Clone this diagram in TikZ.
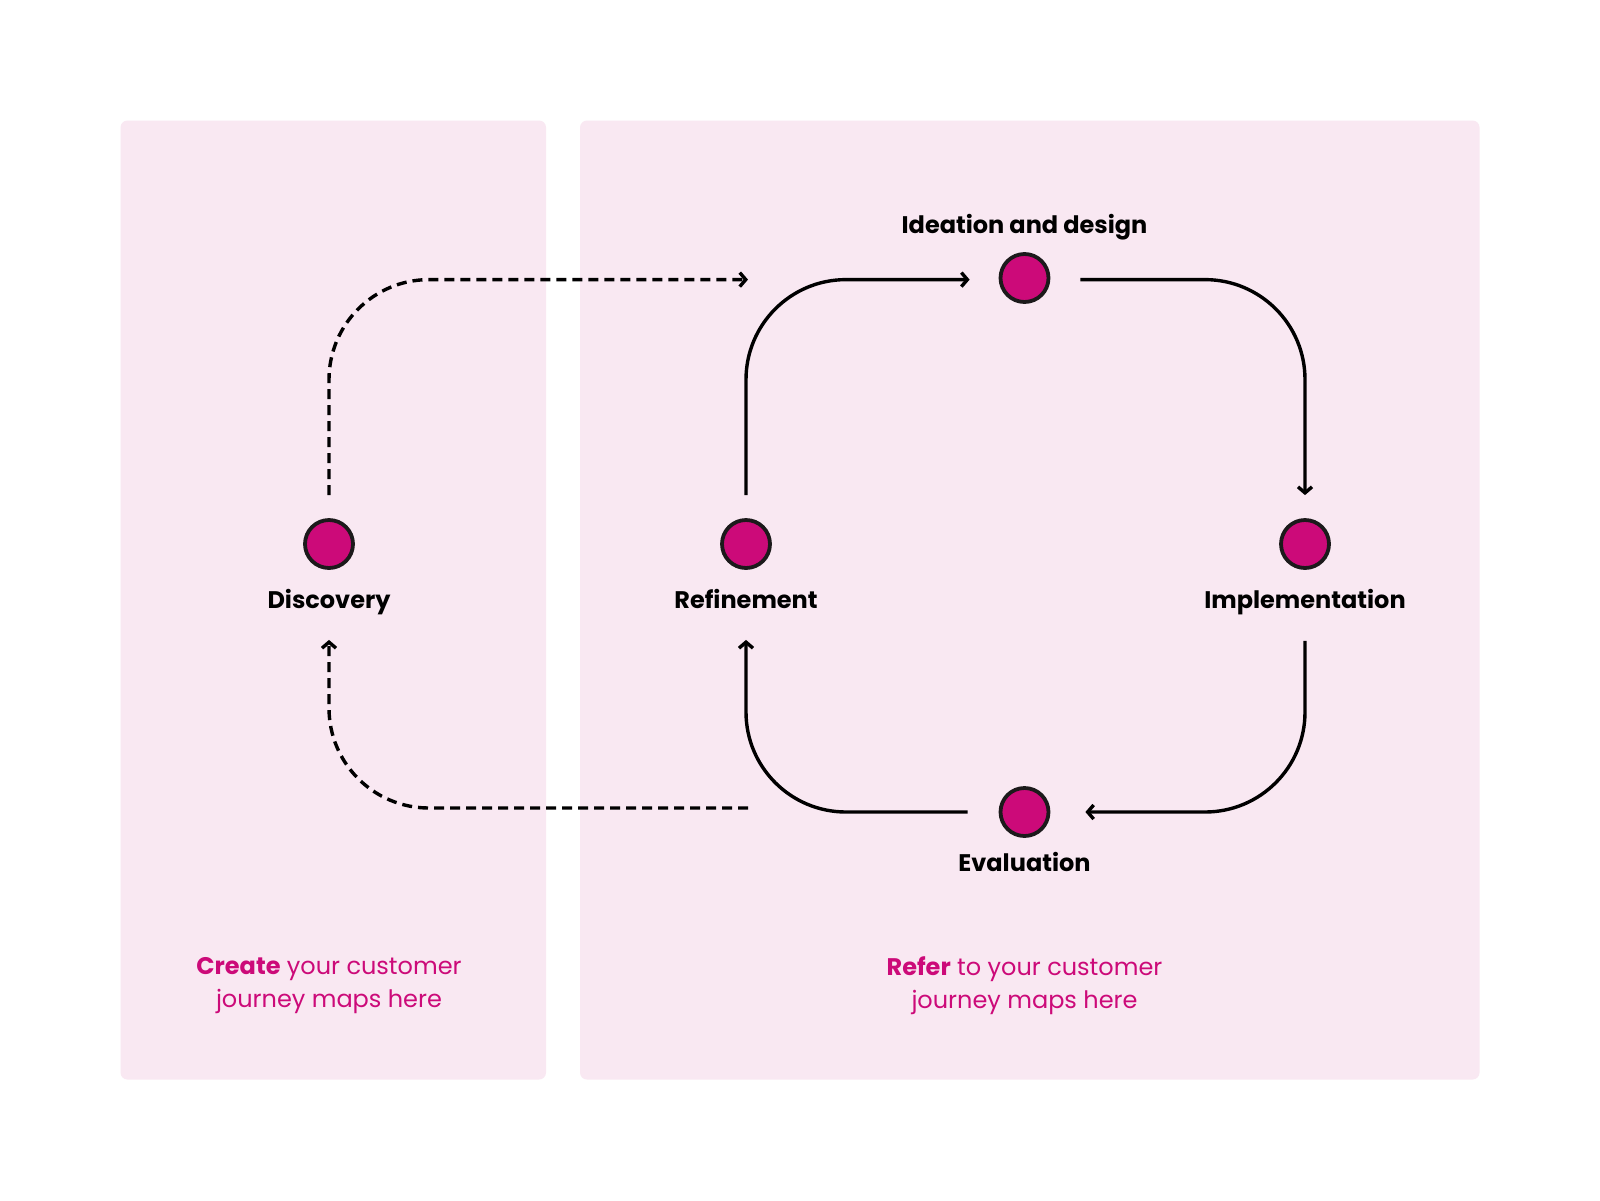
\documentclass[tikz,border=0pt]{standalone}
\usepackage{fontspec}
\setmainfont{Poppins}
\usetikzlibrary{arrows.meta}
\definecolor{panelpink}{HTML}{F9E8F2}
\definecolor{magenta}{HTML}{CC0A79}
\definecolor{ringdark}{HTML}{1C1A1B}
\tikzset{
  panel/.style={fill=panelpink, draw=none, rounded corners=7pt},
  stage/.style={circle, fill=magenta, draw=ringdark, line width=3.8pt, minimum size=48pt, inner sep=0pt},
  stagelabel/.style={font=\fontsize{24}{28}\selectfont\bfseries, text=black, inner sep=0pt, text height=17pt, text depth=5pt},
  flow/.style={line width=3.4pt, draw=black, rounded corners=100pt, -{Straight Barb[length=6pt,width=14pt,line width=3.4pt]}},
  dflow/.style={flow, dash pattern=on 10pt off 6pt},
  note/.style={font=\fontsize{24}{33}\selectfont, text=magenta, align=center, inner sep=0pt}
}
\begin{document}
\begin{tikzpicture}[x=1pt,y=-1pt]
\useasboundingbox[fill=white] (0,0) rectangle (1600,1200);
\fill[panel] (120.5,120.5) rectangle (546,1079.5);
\fill[panel] (580,120.5) rectangle (1479.5,1079.5);

\node[stage] (ide) at (1024.5,278) {};
\node[stage] (dis) at (329,544) {};
\node[stage] (ref) at (746,544) {};
\node[stage] (imp) at (1305,544) {};
\node[stage] (eva) at (1024.5,812) {};

\node[stagelabel] (idel) at (1024.5,227) {Ideation and design};
\node[stagelabel] (disl) at (329,602) {Discovery};
\node[stagelabel] (refl) at (746,602) {Refinement};
\node[stagelabel] (impl) at (1305,602) {Implementation};
\node[stagelabel] (eval) at (1024.5,865) {Evaluation};

\coordinate (dtop) at (748,279.6);
\coordinate (dbot) at (748,808);

\draw[flow] ([xshift=30pt,yshift=-1.6pt]ide.east) -| ([yshift=23pt]imp.north);
\draw[flow] ([yshift=-71pt]imp.south) |- ([xshift=35pt]eva.east);
\draw[flow] ([xshift=-31pt]eva.west) -| ([yshift=-70pt]ref.south);
\draw[flow] ([yshift=23pt]ref.north) |- ([xshift=-29pt,yshift=-1.6pt]ide.west);

\draw[dflow] ([yshift=23pt]dis.north) |- (dtop);
\draw[dflow] (dbot) -| ([yshift=-70pt]dis.south);

\node[note] (left) at (329,986) {\textbf{Create} your customer\\journey maps here};
\node[note] (right) at (1024.5,986) {\textbf{Refer} to your customer\\journey maps here};
\end{tikzpicture}
\end{document}
